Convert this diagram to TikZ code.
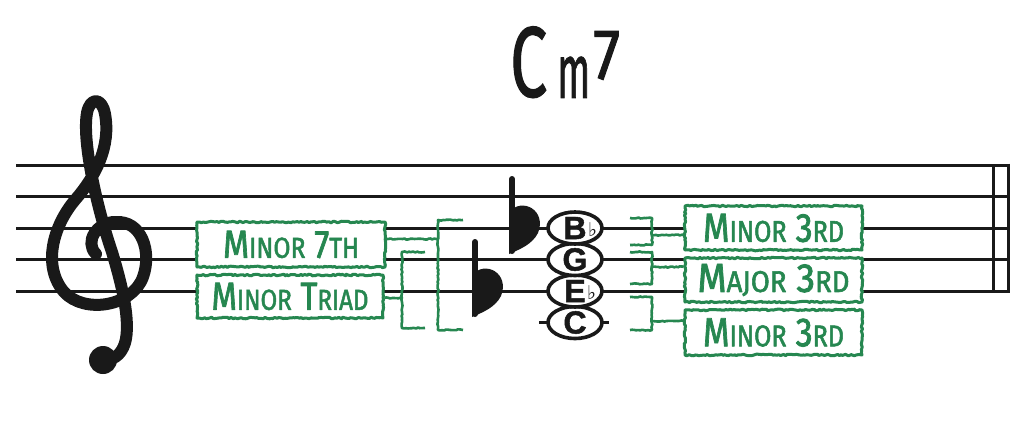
\documentclass[tikz,border=0pt]{standalone}
\usepackage{fontspec}
\setmainfont{Fira Sans}
\newfontfamily\notefont{Liberation Sans}[FakeBold=1.5]
\newfontfamily\symfont{DejaVu Sans}
\newfontfamily\labfont{Fira Sans}[FakeBold=2]
\newfontfamily\titlefont{Fira Sans}[FakeBold=1.5]
\usetikzlibrary{decorations.pathmorphing,shapes.geometric}
\definecolor{lgreen}{RGB}{38,135,80}
\definecolor{ink}{RGB}{25,25,25}
\newcommand\sm[1]{{\fontsize{28}{28}\selectfont #1}}
\newcommand\lbl[3]{\resizebox{#1}{#2}{\labfont\fontsize{38}{38}\selectfont #3}}
\newcommand\flt{\rlap{\kern1.5pt\raisebox{3pt}{\symfont\fontsize{19}{19}\selectfont ♭}}}
\begin{document}
\begin{tikzpicture}[x=1pt,y=-1pt,
  staff/.style={ink, line width=3pt},
  lbox/.style={draw=lgreen, fill=white, text=lgreen, line width=3pt, decorate,
    decoration={random steps, segment length=2pt, amplitude=0.8pt},
    inner sep=0pt, line join=round},
  conn/.style={draw=lgreen, line width=2.6pt, decorate,
    decoration={random steps, segment length=2pt, amplitude=0.6pt}, line join=round},
  note/.style={ellipse, draw=ink, fill=white, line width=3.6pt, minimum width=54pt,
    minimum height=32pt, inner sep=0pt, text=ink,
    font=\notefont\bfseries\fontsize{32}{32}\selectfont},
  title/.style={inner sep=0pt, anchor=south west, text=ink,
    font=\titlefont\fontsize{100}{100}\selectfont}
]
\useasboundingbox (0,0) rectangle (1024,420);
\fill[white] (0,0) rectangle (1024,420);

% staff
\foreach \y in {165,196.5,228,259.5,291} \draw[staff] (16,\y) -- (1008,\y);
\draw[staff] (993,165) -- (993,291);
\draw[staff] (1008,163.5) -- (1008,292.5);

% title
\node[title] (tC) at (510,98) {\resizebox{37pt}{70pt}{C}};
\node[title] (tm) at (557,98) {\resizebox{33pt}{41pt}{m}};
\node[title] (t7) at (593,80) {\resizebox{27pt}{48pt}{7}};

% treble clef
\draw[ink, line width=12pt, line cap=round, line join=round]
  (96,254) .. controls (84,242) and (97,222) .. (115,222)
  .. controls (142,220) and (152,252) .. (143,277)
  .. controls (132,307) and (84,314) .. (64,292)
  .. controls (42,266) and (53,226) .. (75,200)
  .. controls (96,176) and (111,146) .. (105,114)
  .. controls (102,97) and (90,97) .. (87,113)
  .. controls (82,140) and (96,205) .. (112,252)
  .. controls (122,285) and (131,322) .. (125,343)
  .. controls (121,356) and (111,362) .. (103,358);
\fill[ink] (103,360) circle (14);

% flats
\foreach \dx/\dy in {0/0,-37/63}{
  \begin{scope}[shift={(\dx,\dy)}]
    \draw[ink, line width=6pt, line cap=round] (512,179) -- (512,251);
    \fill[ink] (509,254) -- (509,212) .. controls (522,197) and (547,210) .. (538,233)
      .. controls (532,245) and (518,250) .. (509,254) -- cycle;
  \end{scope}
}

% connectors (left)
\node[lbox, minimum width=188pt, minimum height=45pt] (m7) at (291,244.5)
  {\lbl{136pt}{27pt}{M\sm{INOR} 7\sm{TH}}};
\node[lbox, minimum width=186pt, minimum height=43pt] (tri) at (290,296.5)
  {\lbl{157pt}{27pt}{M\sm{INOR} T\sm{RIAD}}};

\coordinate (L1) at (438,239); \coordinate (L1t) at (463,220); \coordinate (L1b) at (463,330);
\coordinate (L2) at (402,298); \coordinate (L2t) at (425,252); \coordinate (L2b) at (425,328);
\draw[conn] (m7.east |- L1) -- (L1);
\draw[conn] (L1t) -- (L1t -| L1) -- (L1b -| L1) -- (L1b);
\draw[conn] (tri.east |- L2) -- (L2);
\draw[conn] (L2t) -- (L2t -| L2) -- (L2b -| L2) -- (L2b);

% notes
\draw[staff] (539,322.5) -- (609,322.5);
\node[note] (nC) at (575,322.5) {C};
\node[note] (nE) at (575,291) {E\flt};
\node[note] (nG) at (575,259.5) {G};
\node[note] (nB) at (575,228) {B\flt};

% interval boxes
\node[lbox, minimum width=177pt, minimum height=44pt] (b1) at (773.5,228)
  {\lbl{141pt}{28pt}{M\sm{INOR} 3\sm{RD}}};
\node[lbox, minimum width=177pt, minimum height=44pt] (b2) at (773.5,280)
  {\lbl{152pt}{28pt}{M\sm{AJOR} 3\sm{RD}}};
\node[lbox, minimum width=177pt, minimum height=45pt] (b3) at (773.5,332.5)
  {\lbl{141pt}{28pt}{M\sm{INOR} 3\sm{RD}}};

\coordinate (R1) at (652,235); \coordinate (R1t) at (630,218); \coordinate (R1b) at (630,245);
\coordinate (R2) at (652,267); \coordinate (R2t) at (630,252); \coordinate (R2b) at (630,284);
\coordinate (R3) at (652,321); \coordinate (R3t) at (630,297); \coordinate (R3b) at (630,330);
\foreach \r/\b in {R1/b1,R2/b2,R3/b3}{
  \draw[conn] (\r t) -- (\r t -| \r) -- (\r b -| \r) -- (\r b);
  \draw[conn] (\r) -- (\b.west |- \r);
}
\end{tikzpicture}
\end{document}
